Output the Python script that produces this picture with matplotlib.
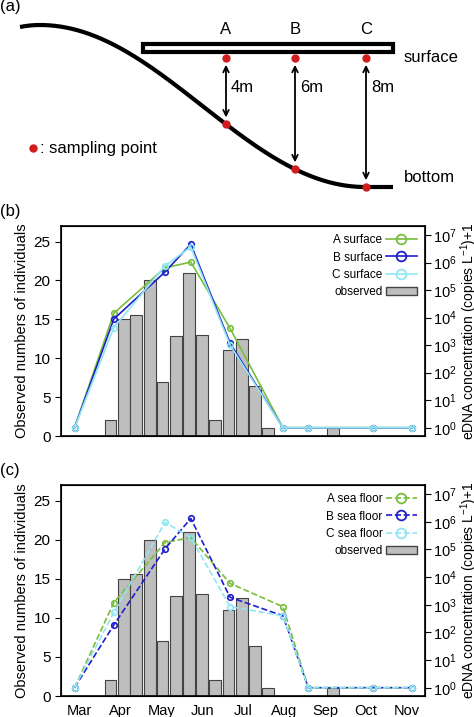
import numpy as np
import matplotlib
matplotlib.use("Agg")
import matplotlib.pyplot as plt
from matplotlib.patches import Rectangle, Patch
from matplotlib.lines import Line2D

plt.rcParams['font.family'] = ['Liberation Sans', 'DejaVu Sans']
plt.rcParams['mathtext.fontset'] = 'custom'
plt.rcParams['mathtext.rm'] = 'Liberation Sans'
plt.rcParams['mathtext.it'] = 'Liberation Sans'

months = ["Mar", "Apr", "May", "Jun", "Jul", "Aug", "Sep", "Oct", "Nov"]
month_pos = [3, 4, 5, 6, 7, 8, 9, 10, 11]

bar_x = [3.76, 4.08, 4.39, 4.72, 5.03, 5.36, 5.68, 6.0, 6.32, 6.64, 6.96, 7.28, 7.60, 9.19]
bar_counts = [2, 15, 15.6, 20, 7, 12.8, 21, 13, 2, 11, 12.5, 6.4, 1, 1]

sample_x = [2.88, 3.84, 5.09, 5.72, 6.68, 7.97, 8.59, 10.16, 11.13]
# log10(copies/L + 1)
surf_A = [0, 4.16, 5.81, 6.02, 3.61, 0, 0, 0, 0]
surf_B = [0, 3.95, 5.66, 6.67, 3.07, 0, 0, 0, 0]
surf_C = [0, 3.64, 5.88, 6.57, 3.00, 0, 0, 0, 0]
floor_A = [0, 3.08, 5.25, 5.43, 3.77, 2.93, 0, 0, 0]
floor_B = [0, 2.27, 5.02, 6.12, 3.27, 2.60, 0, 0, 0]
floor_C = [0, 2.72, 5.98, 5.43, 2.93, 2.60, 0, 0, 0]

colors = {"A": "#78BE3C", "B": "#1E1ECD", "C": "#90E6F5"}

W, H = 474, 717
fig = plt.figure(figsize=(W / 100, H / 100), dpi=100)

def rect(l, t, r, b):
    return [l / W, 1 - b / H, (r - l) / W, (b - t) / H]

# ---------------- panel (a) diagram ----------------
axd = fig.add_axes([0, 1 - 212 / H, 1, 212 / H])
axd.set_xlim(0, W)
axd.set_ylim(212, 0)
axd.axis("off")
xs = np.linspace(20, 393, 400)
def depth(x):
    t = np.clip((x - 40) / 325.0, 0, 1)
    y = 25 + 162 * (1 - np.cos(np.pi * t)) / 2
    return np.where(x < 40, 25 + (40 - x) ** 2 / 200.0, y)
axd.plot(xs, depth(xs), color="black", lw=3, solid_capstyle="butt")
axd.add_patch(Rectangle((143, 43.5), 250, 8.5, facecolor="white", edgecolor="black", lw=3, zorder=3))
for lab, x, bot in [("A", 226, "4m"), ("B", 295, "6m"), ("C", 366, "8m")]:
    yb = float(depth(np.array([x]))[0])
    axd.text(x, 30, lab, ha="center", va="center", fontsize=12)
    axd.annotate("", xy=(x, yb - 4), xytext=(x, 62),
                 arrowprops=dict(arrowstyle="<->", color="black", lw=1.3))
    axd.plot([x, x], [58, yb], "o", color="#D01C1C", ms=5, zorder=5)
    axd.text(x + 5, 88, bot, ha="left", va="center", fontsize=12)
axd.text(404, 58, "surface", ha="left", va="center", fontsize=12)
axd.text(404, 178, "bottom", ha="left", va="center", fontsize=12)
axd.plot([33], [148], "o", color="#D01C1C", ms=5)
axd.text(40, 148, ": sampling point", ha="left", va="center", fontsize=12)
fig.text(0 / W, 1 - 7 / H, "(a)", fontsize=12, va="center", ha="left")

# ---------------- panels (b), (c) ----------------
def panel(top, bottom, series, labels, ls, show_x, tag, tagy):
    ax = fig.add_axes(rect(61, top, 425, bottom))
    ax.bar(bar_x, bar_counts, width=0.29, color="#BEBEBE", edgecolor="#444444", lw=0.8, zorder=1)
    ax.set_xlim(2.55, 11.44)
    ax.set_ylim(0, 27.0)
    ax.set_yticks([0, 5, 10, 15, 20, 25])
    ax.set_ylabel("Observed numbers of individuals", fontsize=10.5, labelpad=3)
    ax.tick_params(axis="y", labelsize=11, length=4)
    if show_x:
        ax.set_xticks(month_pos)
        ax.set_xticklabels(months, fontsize=10.5)
        ax.tick_params(axis="x", length=0, pad=6)
    else:
        ax.set_xticks([])
    for s in ax.spines.values():
        s.set_linewidth(1.2)
    ax2 = ax.twinx()
    ax2.set_ylim(-0.3, 7.33)
    ax2.set_xlim(2.55, 11.44)
    ax2.set_yticks(range(8))
    ax2.set_yticklabels([f"$10^{{{i}}}$" for i in range(8)], fontsize=10.5)
    ax2.tick_params(axis="y", length=4, pad=2)
    ax2.set_ylabel("eDNA concentration (copies L$^{-1}$)+1", fontsize=10, labelpad=1)
    handles = []
    for key, vals, lab in zip(["A", "B", "C"], series, labels):
        ax2.plot(sample_x, vals, ls=ls, color=colors[key], lw=1.2, marker="o", ms=4,
                 mfc="none", mew=1.2, zorder=3)
        handles.append(Line2D([], [], ls=ls, color=colors[key], lw=1.2, marker="o", ms=7,
                              mfc="none", mew=1.3))
    handles.append(Patch(facecolor="#BEBEBE", edgecolor="#444444"))
    ax2.legend(handles, labels + ["observed"], loc="upper right", frameon=False,
               markerfirst=False, fontsize=8.5, handlelength=2.6, borderaxespad=0.3,
               labelspacing=0.45, handletextpad=0.3)
    fig.text(0, 1 - tagy / H, tag, fontsize=12, va="center", ha="left")
    return ax

panel(226, 436, [surf_A, surf_B, surf_C], ["A surface", "B surface", "C surface"], "-", False, "(b)", 211)
panel(485, 696, [floor_A, floor_B, floor_C], ["A sea floor", "B sea floor", "C sea floor"], "--", True, "(c)", 470)

fig.savefig("out.png", dpi=100)
